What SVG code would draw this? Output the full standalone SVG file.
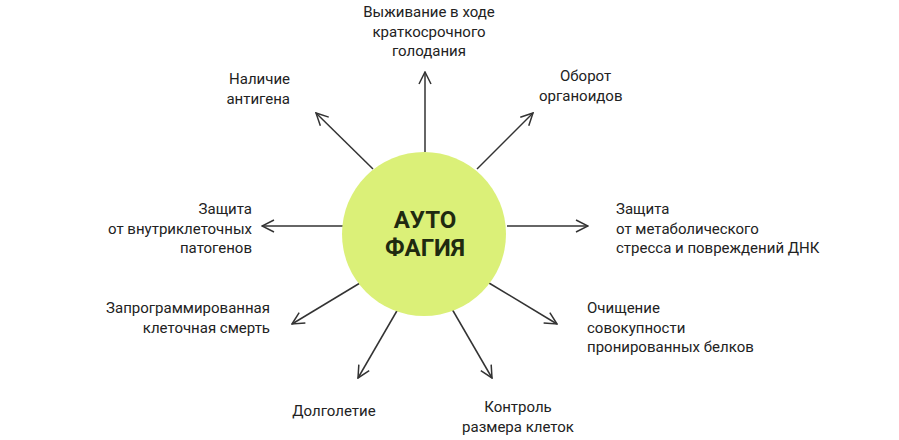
<svg xmlns="http://www.w3.org/2000/svg" width="899" height="440" viewBox="0 0 899 440">
<style>
text{font-family:Roboto,"Liberation Sans",sans-serif;font-size:15px;fill:#222}
.c line{stroke:#333;stroke-width:1.5;marker-end:url(#a)}
.t{font-size:24px;font-weight:bold;fill:#1f2a10}
</style>
<defs><marker id="a" viewBox="0 0 14 14" refX="13" refY="7" markerWidth="14" markerHeight="14" markerUnits="userSpaceOnUse" orient="auto"><path d="M1,1 L13,7 L1,13" fill="none" stroke="#333" stroke-width="1.5"/></marker></defs>
<rect width="899" height="440" fill="#fff"/>
<g class="c" id="connectors">
<line x1="425" y1="152" x2="425" y2="72"/>
<line x1="373" y1="169" x2="316" y2="113"/>
<line x1="477" y1="169" x2="533" y2="113"/>
<line x1="343" y1="226" x2="262" y2="226"/>
<line x1="507" y1="226" x2="588" y2="226"/>
<line x1="360" y1="283" x2="292" y2="324"/>
<line x1="398" y1="309" x2="358" y2="378"/>
<line x1="452" y1="309" x2="492" y2="378"/>
<line x1="489" y1="283" x2="557" y2="324"/>
</g>
<g id="center"><circle cx="424" cy="234" r="82" fill="#dbf078"/>
<text class="t" x="425" y="228" text-anchor="middle">АУТО</text>
<text class="t" x="425" y="256" text-anchor="middle">ФАГИЯ</text></g>
<g id="n1"><text x="429" y="17" text-anchor="middle">Выживание в ходе</text><text x="429" y="37" text-anchor="middle">краткосрочного</text><text x="429" y="56" text-anchor="middle">голодания</text></g>
<g id="n2"><text x="290" y="84" text-anchor="end">Наличие</text><text x="290" y="104" text-anchor="end">антигена</text></g>
<g id="n3"><text x="560" y="81">Оборот</text><text x="539" y="101">органоидов</text></g>
<g id="n4"><text x="252" y="214" text-anchor="end">Защита</text><text x="252" y="234" text-anchor="end">от внутриклеточных</text><text x="252" y="253" text-anchor="end">патогенов</text></g>
<g id="n5"><text x="616" y="214">Защита</text><text x="616" y="234">от метаболического</text><text x="616" y="253">стресса и повреждений ДНК</text></g>
<g id="n6"><text x="270" y="313" text-anchor="end">Запрограммированная</text><text x="270" y="333" text-anchor="end">клеточная смерть</text></g>
<g id="n7"><text x="587" y="313">Очищение</text><text x="587" y="333">совокупности</text><text x="587" y="352">пронированных белков</text></g>
<g id="n8"><text x="334" y="416" text-anchor="middle">Долголетие</text></g>
<g id="n9"><text x="518" y="412" text-anchor="middle">Контроль</text><text x="518" y="432" text-anchor="middle">размера клеток</text></g>
</svg>
